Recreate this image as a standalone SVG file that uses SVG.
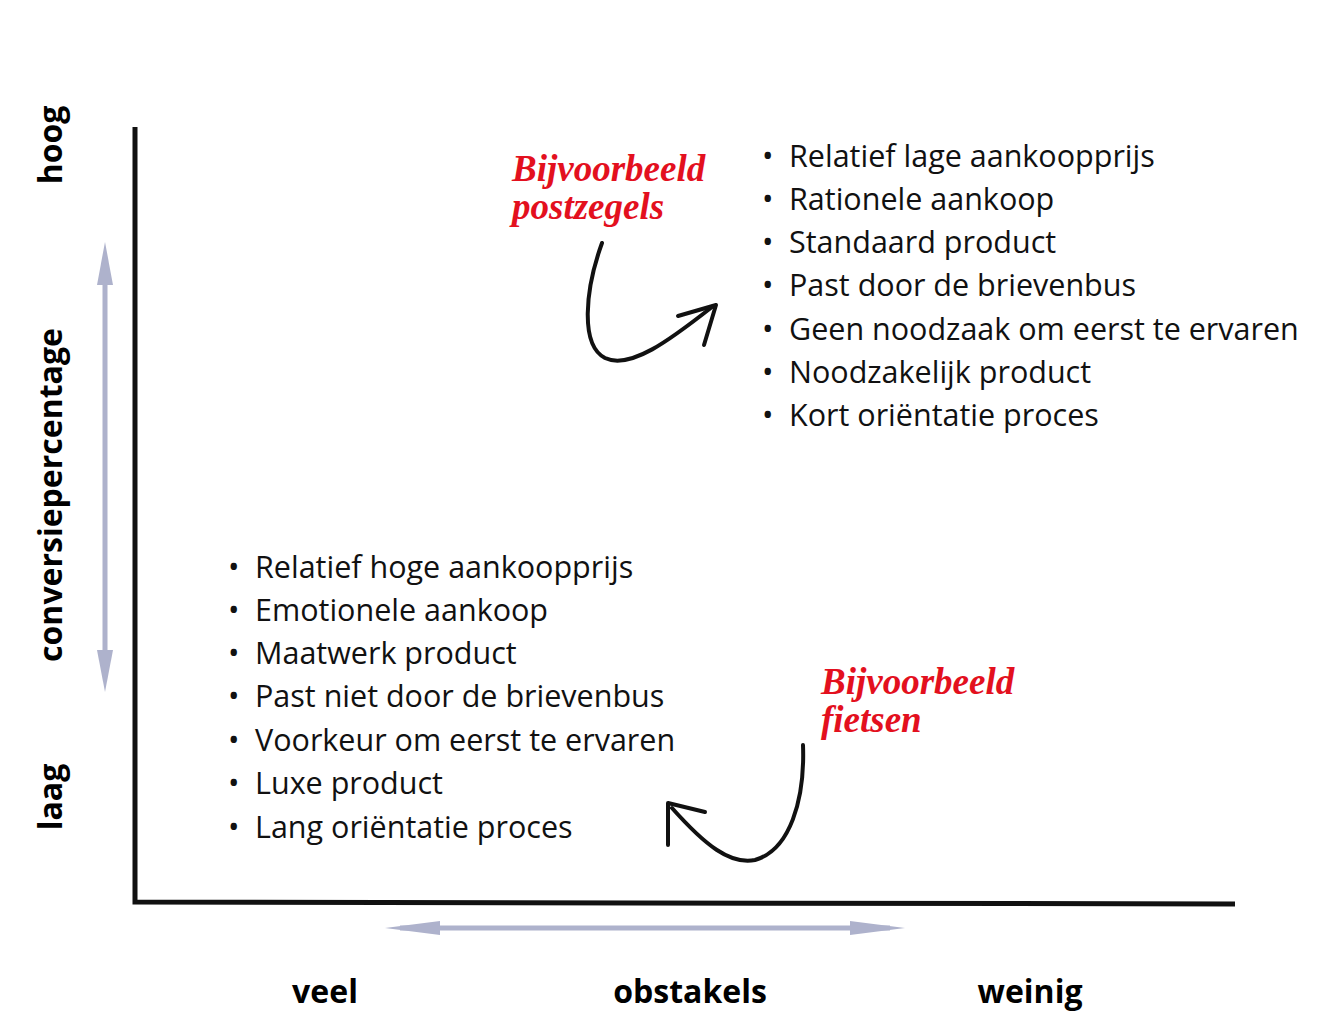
<svg xmlns="http://www.w3.org/2000/svg" width="1323" height="1020" viewBox="0 0 1323 1020">
<style>
.ax{font-family:"Open Sans","Liberation Sans",sans-serif;font-weight:bold;font-size:32px;fill:#000}
.b{font-family:"Open Sans","Liberation Sans",sans-serif;font-size:30.5px;fill:#111}
.r{font-family:"Liberation Serif",serif;font-style:italic;font-weight:bold;font-size:37px;fill:#e3101e}
.g{stroke:#aeb2cc;stroke-width:5;fill:none}
.h{stroke:#111;stroke-width:4;fill:none;stroke-linecap:round;stroke-linejoin:round}
</style>
<rect width="1323" height="1020" fill="#fff"/>
<g id="connectors">
<path d="M135 127 V902 L1235 904" stroke="#111" stroke-width="5" fill="none"/>
<path class="g" d="M105 260 V676"/>
<polygon points="105,242 97,285 113,285" fill="#aeb2cc"/>
<polygon points="105,692 97,650 113,650" fill="#aeb2cc"/>
<path class="g" d="M400 928 H890"/>
<polygon points="385,928 440,921 440,935" fill="#aeb2cc"/>
<polygon points="905,928 850,921 850,935" fill="#aeb2cc"/>
<path class="h" d="M602 243 C585 290 580 345 605 358 C630 370 670 340 712 307"/>
<path class="h" d="M678 316 L716 305 L704 345"/>
<path class="h" d="M803 745 C805 800 790 850 755 860 C730 865 705 845 672 808"/>
<path class="h" d="M668 845 L668 803 L705 812"/>
</g>
<g id="yaxis">
<text class="ax" transform="translate(62,145) rotate(-90)" text-anchor="middle">hoog</text>
<text class="ax" transform="translate(62,495) rotate(-90)" text-anchor="middle">conversiepercentage</text>
<text class="ax" transform="translate(62,797) rotate(-90)" text-anchor="middle">laag</text>
</g>
<g id="xaxis">
<text class="ax" x="325" y="1003" text-anchor="middle">veel</text>
<text class="ax" x="690" y="1003" text-anchor="middle">obstakels</text>
<text class="ax" x="1030" y="1003" text-anchor="middle">weinig</text>
</g>
<g id="top-list">
<text class="b" x="762" y="167">•</text><text class="b" x="789" y="167">Relatief lage aankoopprijs</text>
<text class="b" x="762" y="210">•</text><text class="b" x="789" y="210">Rationele aankoop</text>
<text class="b" x="762" y="253">•</text><text class="b" x="789" y="253">Standaard product</text>
<text class="b" x="762" y="296">•</text><text class="b" x="789" y="296">Past door de brievenbus</text>
<text class="b" x="762" y="340">•</text><text class="b" x="789" y="340">Geen noodzaak om eerst te ervaren</text>
<text class="b" x="762" y="383">•</text><text class="b" x="789" y="383">Noodzakelijk product</text>
<text class="b" x="762" y="426">•</text><text class="b" x="789" y="426">Kort oriëntatie proces</text>
</g>
<g id="bottom-list">
<text class="b" x="228" y="578">•</text><text class="b" x="255" y="578">Relatief hoge aankoopprijs</text>
<text class="b" x="228" y="621">•</text><text class="b" x="255" y="621">Emotionele aankoop</text>
<text class="b" x="228" y="664">•</text><text class="b" x="255" y="664">Maatwerk product</text>
<text class="b" x="228" y="707">•</text><text class="b" x="255" y="707">Past niet door de brievenbus</text>
<text class="b" x="228" y="751">•</text><text class="b" x="255" y="751">Voorkeur om eerst te ervaren</text>
<text class="b" x="228" y="794">•</text><text class="b" x="255" y="794">Luxe product</text>
<text class="b" x="228" y="838">•</text><text class="b" x="255" y="838">Lang oriëntatie proces</text>
</g>
<g id="example-top">
<text class="r" x="512" y="181">Bijvoorbeeld</text>
<text class="r" x="512" y="219">postzegels</text>
</g>
<g id="example-bottom">
<text class="r" x="821" y="694">Bijvoorbeeld</text>
<text class="r" x="821" y="732">fietsen</text>
</g>
</svg>
